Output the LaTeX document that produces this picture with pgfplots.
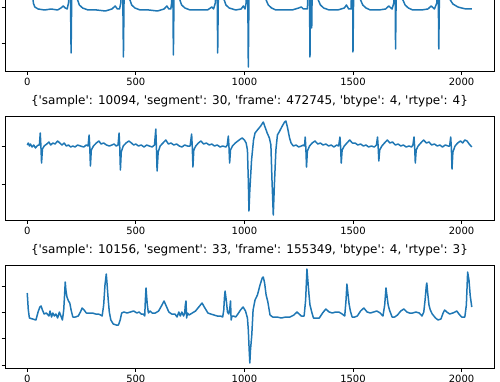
\documentclass[border=0pt]{standalone}
\usepackage{fontspec}
\setmainfont{DejaVu Sans}[Ligatures=TeXOff]
\usepackage{pgfplots}
\pgfplotsset{compat=1.18}
\definecolor{mplblue}{HTML}{1F77B4}
\pgfplotsset{
  ecg/.style={
    anchor=south west,
    scale only axis,
    width=489pt,
    xmin=-102.35, xmax=2149.35,
    y dir=reverse,
    xtick={0,500,1000,1500,2000},
    xtick pos=bottom, ytick pos=left,
    tick align=outside,
    major tick length=3.5pt,
    axis line style={line width=0.8pt, black},
    tick style={line width=0.8pt, black},
    yticklabels={},
    /pgf/number format/assume math mode=true,
    /pgf/number format/1000 sep={},
    xticklabel style={font=\fontsize{10}{12}\selectfont, inner sep=0pt, yshift=-3.5pt},
    title style={font=\fontsize{12}{14}\selectfont, anchor=base, at={(0.5,1)}, yshift=6pt, inner sep=0pt},
    clip=true,
  },
  ecgline/.style={mplblue, line width=1.5pt, line join=round, mark=none},
}
\begin{document}
\begin{tikzpicture}
\useasboundingbox (0pt,0pt) rectangle (500pt,381pt);
\clip (0pt,0pt) rectangle (500pt,381pt);
% ---------- axis 1 ----------
\begin{axis}[ecg, at={(5pt,310pt)}, height=104pt, ymin=-33, ymax=71, ytick={7,43}]
\addplot[ecgline] table {
x y
0 -25
22 -25
28 3
35 7
50 9
80 10
110 9
140 10
155 8
166 6
175 8
184 9
190 3
194 -25
198 -25
202 53
206 -25
226 -25
232 0
240 5
255 8
280 10
320 10
360 11
390 9
405 6
415 9
425 9
431 3
435 -25
439 -25
443 57
447 -25
467 -25
473 0
481 5
496 8
520 10
560 10
600 11
630 9
643 6
652 9
661 9
665 3
669 -25
670 -25
673 55
677 -25
697 -25
703 0
711 5
726 8
750 10
790 10
830 10
850 7
858 9
866 3
870 -25
874 -25
877 53
881 -25
901 -25
907 0
915 5
930 8
960 10
985 9
995 6
1003 9
1008 3
1012 -25
1015 -25
1018 67
1022 -25
1090 -25
1100 0
1110 5
1125 8
1145 10
1180 10
1220 10
1250 8
1262 7
1272 9
1290 9
1296 -25
1299 -25
1302 57
1305 -25
1308 -25
1310 28
1313 -25
1330 -25
1340 0
1350 5
1365 8
1390 10
1430 10
1460 8
1470 5
1480 9
1491 9
1495 -25
1498 -25
1500 52
1504 -25
1525 -25
1535 0
1545 5
1560 8
1580 10
1620 10
1650 9
1665 6
1680 9
1688 3
1692 -25
1694 -25
1696 49
1700 -25
1720 -25
1730 0
1740 5
1755 8
1775 10
1815 10
1845 9
1860 6
1875 9
1886 3
1890 -25
1892 -25
1895 49
1899 -25
1940 -25
1948 0
1960 4
1983 7
2000 8
2020 9
2047 9
};
\end{axis}
% ---------- axis 2 ----------
\begin{axis}[ecg, at={(5pt,161pt)}, height=104pt, ymin=116, ymax=220, ytick={146,184},
  title={\{'sample': 10094, 'segment': 30, 'frame': 472745, 'btype': 4, 'rtype': 4\}}]
\addplot[ecgline] table {
x y
0 145
5 143
10 146
15 144
22 147
30 145
38 148
45 146
52 145
56 145
60 133
63 146
66 163
70 149
78 146
90 144
100 142
108 145
118 143
128 144
140 141
150 143
160 145
170 143
180 146
190 145
200 147
210 146
220 147
232 145
245 146
260 147
272 145
280 146
285 135
288 147
291 166
295 150
305 146
318 143
330 141
340 144
352 143
365 145
378 146
390 145
400 144
410 146
418 145
423 133
426 147
429 170
433 152
442 146
455 143
468 141
480 143
490 145
500 144
512 146
525 145
538 147
550 145
562 146
575 147
586 145
592 129
595 148
598 171
603 152
612 146
625 143
638 140
650 144
662 143
675 145
688 144
700 146
712 147
725 145
738 146
750 146
757 134
760 147
763 167
767 150
776 146
788 143
800 141
812 144
825 143
838 145
850 144
862 146
875 145
888 147
900 146
915 147
921 145
926 136
929 147
932 163
936 150
945 146
958 143
970 141
982 139
990 138
1000 140
1008 143
1014 150
1018 180
1021 211
1025 190
1033 160
1042 140
1049 133
1060 130
1075 126
1087 122
1095 127
1105 133
1115 138
1122 145
1127 180
1133 215
1138 185
1145 150
1152 135
1160 132
1172 127
1185 122
1191 121
1198 127
1208 138
1215 143
1225 146
1238 145
1250 147
1262 146
1272 145
1277 146
1280 137
1283 148
1286 167
1290 151
1300 146
1312 143
1325 141
1338 144
1350 143
1362 145
1375 144
1388 146
1400 145
1412 147
1425 145
1434 146
1440 137
1443 147
1446 163
1450 150
1460 146
1472 143
1485 140
1497 143
1510 143
1522 145
1535 144
1548 146
1560 145
1572 147
1585 146
1598 147
1608 145
1613 137
1616 147
1619 161
1623 150
1633 146
1645 143
1658 140
1670 143
1682 142
1695 145
1708 144
1720 146
1732 145
1745 147
1758 146
1770 147
1776 145
1781 137
1784 147
1787 163
1791 150
1800 146
1812 143
1825 140
1838 143
1850 142
1862 145
1875 144
1888 146
1900 145
1912 147
1925 145
1938 146
1945 146
1950 137
1953 148
1956 169
1960 152
1970 146
1982 143
1995 141
2005 143
2015 140
2025 141
2035 144
2047 147
};
\end{axis}
% ---------- axis 3 ----------
\begin{axis}[ecg, at={(5pt,13pt)}, height=103pt, ymin=265, ymax=368, ytick={286,312,338,365},
  title={\{'sample': 10156, 'segment': 33, 'frame': 155349, 'btype': 4, 'rtype': 3\}}]
\addplot[ecgline] table {
x y
0 293
5 310
10 318
25 319
40 320
50 312
58 307
64 306
70 310
78 314
88 313
100 316
105 311
112 317
118 313
125 316
132 314
140 318
148 312
155 316
162 320
168 310
172 295
175 282
178 290
183 297
190 301
196 303
202 310
210 317
222 317
235 316
245 312
253 308
262 310
272 313
285 313
300 313
315 314
328 314
338 315
345 316
352 305
358 285
364 274
368 285
373 300
378 312
385 320
396 324
410 325
420 325
428 320
435 313
445 312
460 313
475 312
490 311
505 313
515 312
525 314
535 314
541 316
544 300
547 288
550 297
553 305
558 313
566 311
575 313
590 313
605 311
618 306
630 301
640 306
652 312
665 314
680 314
690 317
698 312
705 316
712 312
720 316
725 313
728 305
731 301
734 318
738 313
745 315
760 313
775 311
790 307
805 303
818 308
832 313
845 314
860 315
875 316
890 316
900 317
905 310
908 298
911 291
914 296
918 303
922 312
928 314
933 308
936 301
939 320
943 316
950 316
960 317
970 314
982 310
994 307
1005 311
1014 318
1018 330
1022 350
1025 363
1028 350
1034 335
1040 310
1049 300
1060 295
1072 285
1082 278
1087 277
1093 283
1100 295
1108 302
1118 315
1130 317
1150 317
1170 318
1190 317
1210 317
1228 315
1242 312
1252 314
1262 316
1275 316
1282 300
1288 269
1292 280
1298 296
1302 305
1310 312
1318 318
1330 318
1345 318
1360 313
1375 309
1390 312
1405 313
1420 312
1435 312
1450 314
1462 316
1468 300
1472 284
1476 292
1482 304
1488 311
1496 317
1508 317
1520 316
1535 311
1550 308
1565 312
1580 313
1595 312
1610 311
1625 313
1638 316
1646 305
1652 288
1656 295
1662 305
1668 310
1680 317
1692 317
1705 315
1720 311
1734 309
1748 312
1760 313
1775 313
1790 312
1805 313
1818 316
1826 312
1832 300
1838 285
1840 283
1844 293
1850 305
1856 310
1865 314
1880 318
1892 320
1905 319
1915 313
1922 310
1932 312
1945 314
1960 313
1970 312
1978 311
1988 314
2000 317
2015 317
2022 305
2028 272
2034 280
2040 296
2047 307
};
\end{axis}
\end{tikzpicture}
\end{document}
